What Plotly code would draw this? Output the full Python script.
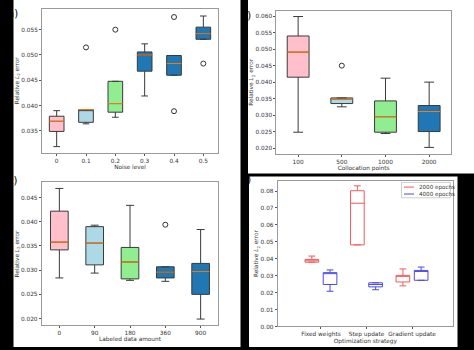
import plotly.graph_objects as go

W, H = 474, 350
FONT = "DejaVu Sans"
TXT = "#333333"
PINK, LBLUE, LGREEN, C0 = "#ffc0cb", "#add8e6", "#90ee90", "#1f77b4"
MED = "#ff7f0e"
YTITLE = "Relative <i>L</i><sub>2</sub> error"

# ---------------- data ----------------
# (a) noise level
a_cats = ["0", "0.1", "0.2", "0.3", "0.4", "0.5"]
a_lo = [0.0319, 0.0364, 0.0377, 0.0419, 0.0460, 0.0531]
a_q1 = [0.0349, 0.0367, 0.0387, 0.0468, 0.0460, 0.0531]
a_med = [0.0369, 0.0392, 0.0404, 0.0500, 0.0483, 0.0542]
a_q3 = [0.0379, 0.0392, 0.0448, 0.0506, 0.0499, 0.0555]
a_hi = [0.0390, 0.0392, 0.0448, 0.0522, 0.0499, 0.0577]
a_out_cat = ["0.1", "0.2", "0.4", "0.4", "0.5"]
a_out_val = [0.0515, 0.0550, 0.0575, 0.0389, 0.0483]
a_colors = [PINK, LBLUE, LGREEN, C0, C0, C0]

# (b) collocation points
b_cats = ["100", "500", "1000", "2000"]
b_lo = [0.0248, 0.0325, 0.0244, 0.0202]
b_q1 = [0.0415, 0.0335, 0.0248, 0.0250]
b_med = [0.0491, 0.0348, 0.0295, 0.0311]
b_q3 = [0.0540, 0.0352, 0.0343, 0.0329]
b_hi = [0.0599, 0.0352, 0.0412, 0.0400]
b_out_cat = ["500"]
b_out_val = [0.0450]
b_colors = [PINK, LBLUE, LGREEN, C0]

# (c) labeled data amount
c_cats = ["0", "90", "180", "360", "900"]
c_lo = [0.0284, 0.0294, 0.0279, 0.0277, 0.0199]
c_q1 = [0.0342, 0.0311, 0.0282, 0.0284, 0.0250]
c_med = [0.0358, 0.0356, 0.0317, 0.0296, 0.0297]
c_q3 = [0.0422, 0.0390, 0.0347, 0.0307, 0.0314]
c_hi = [0.0469, 0.0393, 0.0434, 0.0307, 0.0384]
c_out_cat = ["360"]
c_out_val = [0.0394]
c_colors = [PINK, LBLUE, LGREEN, C0, C0]

# (d) optimization strategy
d_cats = ["Fixed weights", "Step update", "Gradient update"]
d_series = ["2000 epochs", "4000 epochs"]
d_lo = [[0.0380, 0.0482, 0.0240], [0.0208, 0.0217, 0.0273]]
d_q1 = [[0.0380, 0.0482, 0.0263], [0.0248, 0.0234, 0.0273]]
d_med = [[0.0388, 0.0728, 0.0296], [0.0312, 0.0248, 0.0326]]
d_q3 = [[0.0396, 0.0802, 0.0302], [0.0318, 0.0258, 0.0331]]
d_hi = [[0.0416, 0.0831, 0.0340], [0.0334, 0.0258, 0.0351]]
d_colors = ["#f25a5a", "#4a4ae6"]

# ---------------- layout helpers ----------------
def px_x(p):
    return p / W

def px_y(p):
    return 1 - p / H

fig = go.Figure()
layout = {}
TFONT = dict(family=FONT, size=5.8, color=TXT)


def axis_common():
    return dict(showline=True, mirror=True, linecolor="#9a9a9a", linewidth=1,
                ticks="outside", ticklen=2, tickcolor="#555", tickwidth=1,
                showgrid=False, zeroline=False, tickfont=dict(family=FONT, size=5.8, color=TXT))


def add_panel(idx, cats, lo, q1, med, q3, hi, colors, out_cat, out_val,
              xdom, ydom, yrange, dtick, fmt, xtitle):
    xa = "x" if idx == 1 else f"x{idx}"
    ya = "y" if idx == 1 else f"y{idx}"
    for i, c in enumerate(cats):
        fig.add_trace(go.Box(x=[i], q1=[q1[i]], median=[med[i]], q3=[q3[i]],
                             lowerfence=[lo[i]], upperfence=[hi[i]], width=0.5,
                             whiskerwidth=0.45, fillcolor=colors[i], boxpoints=False,
                             line=dict(color="#3a3a3a", width=1), showlegend=False,
                             hoverinfo="skip", xaxis=xa, yaxis=ya))
        fig.add_trace(go.Scatter(x=[i - 0.25, i + 0.25], y=[med[i], med[i]], mode="lines",
                                 line=dict(color=MED, width=1), showlegend=False,
                                 hoverinfo="skip", xaxis=xa, yaxis=ya))
    fig.add_trace(go.Scatter(x=[cats.index(c) for c in out_cat], y=out_val, mode="markers",
                             marker=dict(symbol="circle-open", size=5, color="#333",
                                         line=dict(width=1)),
                             showlegend=False, hoverinfo="skip", xaxis=xa, yaxis=ya))
    key = "" if idx == 1 else str(idx)
    xd = axis_common()
    xd.update(domain=[px_x(xdom[0]), px_x(xdom[1])], range=[-0.5, len(cats) - 0.5],
              tickvals=list(range(len(cats))), ticktext=cats, anchor=ya,
              title=dict(text=xtitle, standoff=1, font=TFONT))
    yd = axis_common()
    yd.update(domain=[px_y(ydom[1]), px_y(ydom[0])], range=yrange, dtick=dtick, tick0=0,
              tickformat=fmt, anchor=xa,
              title=dict(text=YTITLE, standoff=0, font=TFONT))
    layout["xaxis" + key] = xd
    layout["yaxis" + key] = yd


add_panel(1, a_cats, a_lo, a_q1, a_med, a_q3, a_hi, a_colors, a_out_cat, a_out_val,
          (42, 218), (9, 154), [0.0307, 0.0591], 0.005, ".3f", "Noise level")
add_panel(2, b_cats, b_lo, b_q1, b_med, b_q3, b_hi, b_colors, b_out_cat, b_out_val,
          (276.3, 451), (10.7, 155.3), [0.0182, 0.0617], 0.005, ".3f", "Collocation points")
add_panel(3, c_cats, c_lo, c_q1, c_med, c_q3, c_hi, c_colors, c_out_cat, c_out_val,
          (41.7, 218.3), (184, 328.3), [0.01857, 0.04814], 0.005, ".3f", "Labeled data amount")

# panel d
offs = [-0.2, 0.2]
for s in range(2):
    for i in range(len(d_cats)):
        xpos = i + offs[s]
        fig.add_trace(go.Box(x=[xpos], q1=[d_q1[s][i]], median=[d_med[s][i]], q3=[d_q3[s][i]],
                             lowerfence=[d_lo[s][i]], upperfence=[d_hi[s][i]], width=0.3,
                             whiskerwidth=0.5, fillcolor="rgba(0,0,0,0)", boxpoints=False,
                             line=dict(color=d_colors[s], width=1), showlegend=False,
                             hoverinfo="skip", xaxis="x4", yaxis="y4"))
xd = axis_common()
xd.update(domain=[px_x(277.7), px_x(453)], range=[-0.95, 2.9], tickvals=list(range(3)),
          ticktext=d_cats, anchor="y4",
          title=dict(text="Optimization strategy", standoff=1, font=TFONT))
yd = axis_common()
yd.update(domain=[px_y(329.3), px_y(182.3)], range=[0, 0.0861], dtick=0.01, tick0=0,
          tickformat=".2f", anchor="x4",
          title=dict(text=YTITLE, standoff=0, font=TFONT))
layout["xaxis4"] = xd
layout["yaxis4"] = yd

# ---------------- backgrounds ----------------
shapes = []
for (x0, y0, x1, y1) in [(13.5, 0, 240.5, 350), (248, 0, 474, 175), (249, 178, 457.5, 350)]:
    shapes.append(dict(type="rect", xref="paper", yref="paper", x0=px_x(x0), x1=px_x(x1),
                       y0=px_y(y1), y1=px_y(y0), fillcolor="white", line=dict(width=0),
                       layer="below"))

# legend for panel d (drawn manually)
annotations = []
shapes.append(dict(type="rect", xref="paper", yref="paper", x0=px_x(401.5), x1=px_x(450.5),
                   y0=px_y(199.5), y1=px_y(184), fillcolor="white",
                   line=dict(color="#cfcfcf", width=1)))
for s, name in enumerate(d_series):
    yy = 188.7 + 7 * s
    shapes.append(dict(type="line", xref="paper", yref="paper", x0=px_x(404), x1=px_x(414),
                       y0=px_y(yy), y1=px_y(yy), line=dict(color=d_colors[s], width=1)))
    annotations.append(dict(text=name, xref="paper", yref="paper", x=px_x(417), y=px_y(yy),
                            xanchor="left", yanchor="middle", showarrow=False,
                            font=dict(family=FONT, size=5.6, color=TXT)))

# panel letters (partly hidden behind black strips)
for lab, x, y in [("a)", 19.5, 14), ("b)", 253, 15.5), ("c)", 19, 182.5), ("d)", 252.5, 181.5)]:
    annotations.append(dict(text=lab, xref="paper", yref="paper", x=px_x(x), y=px_y(y),
                            xanchor="right", yanchor="middle", showarrow=False,
                            font=dict(family=FONT, size=10, color="black")))

fig.update_layout(width=W, height=H, margin=dict(l=0, r=0, t=0, b=0),
                  paper_bgcolor="black", plot_bgcolor="white", showlegend=False,
                  shapes=shapes, annotations=annotations, **layout)

fig.write_html("out.html")
